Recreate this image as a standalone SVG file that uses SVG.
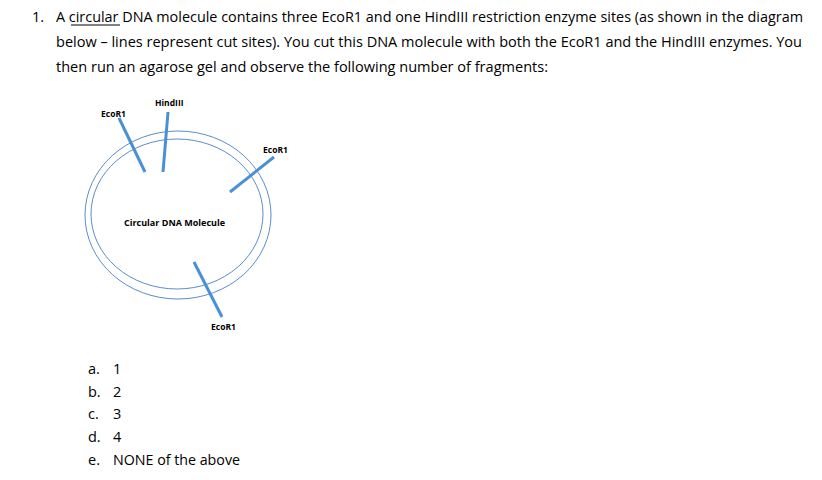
<svg xmlns="http://www.w3.org/2000/svg" width="822" height="480" viewBox="0 0 822 480">
<style>
.t{font-family:"Open Sans","Liberation Sans",sans-serif;font-size:14.5px;fill:#000}
.l{font-family:"Open Sans","Liberation Sans",sans-serif;font-size:8.5px;font-weight:bold;fill:#000}
.ring{fill:none;stroke:#4a7fc0;stroke-width:0.9}
.cut{stroke:#4a90d9;stroke-width:3}
</style>
<rect width="822" height="480" fill="#fff"/>
<text class="t" x="32" y="22">1.</text>
<text class="t" x="56" y="22" textLength="747" lengthAdjust="spacingAndGlyphs">A circular DNA molecule contains three EcoR1 and one HindIII restriction enzyme sites (as shown in the diagram</text>
<line x1="71" y1="25" x2="120" y2="25" stroke="#000" stroke-width="1"/>
<text class="t" x="56" y="47" textLength="746" lengthAdjust="spacingAndGlyphs">below – lines represent cut sites). You cut this DNA molecule with both the EcoR1 and the HindIII enzymes. You</text>
<text class="t" x="56" y="72" textLength="492" lengthAdjust="spacingAndGlyphs">then run an agarose gel and observe the following number of fragments:</text>
<g id="dna">
<ellipse class="ring" cx="178" cy="215" rx="93" ry="84"/>
<ellipse class="ring" cx="177" cy="214" rx="86" ry="75"/>
<text class="l" x="124" y="226" textLength="101" lengthAdjust="spacingAndGlyphs">Circular DNA Molecule</text>
</g>
<g id="connectors">
<line class="cut" x1="119" y1="118" x2="145" y2="172"/>
<line class="cut" x1="168" y1="112" x2="163" y2="172"/>
<line class="cut" x1="274" y1="157" x2="230" y2="192"/>
<line class="cut" x1="194" y1="262" x2="222" y2="317"/>
</g>
<g id="labels">
<text class="l" x="101" y="117">EcoR1</text>
<text class="l" x="155" y="106">HindIII</text>
<text class="l" x="263" y="153">EcoR1</text>
<text class="l" x="211" y="330">EcoR1</text>
</g>
<g id="options">
<text class="t" x="88" y="374">a.</text><text class="t" x="113" y="374">1</text>
<text class="t" x="88" y="397">b.</text><text class="t" x="113" y="397">2</text>
<text class="t" x="88" y="419">c.</text><text class="t" x="113" y="419">3</text>
<text class="t" x="88" y="442">d.</text><text class="t" x="113" y="442">4</text>
<text class="t" x="88" y="465">e.</text><text class="t" x="113" y="465" textLength="127" lengthAdjust="spacingAndGlyphs">NONE of the above</text>
</g>
</svg>
